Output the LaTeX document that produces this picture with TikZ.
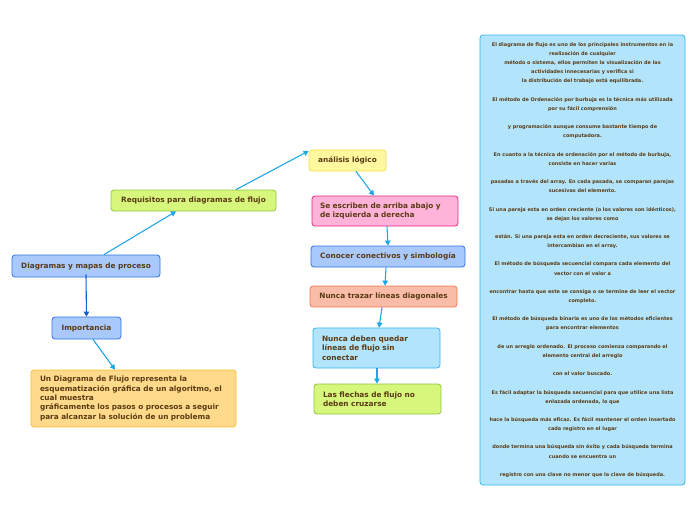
\documentclass[tikz,border=0pt]{standalone}
\usepackage{fontspec}
\setmainfont{DejaVu Sans}
\usetikzlibrary{arrows.meta}
\definecolor{txt}{HTML}{5A3A14}
\definecolor{grF}{HTML}{D6F67C}\definecolor{grD}{HTML}{8DC63F}
\definecolor{yeF}{HTML}{FFF89E}\definecolor{yeD}{HTML}{F2E54A}
\definecolor{piF}{HTML}{FFB3D9}\definecolor{piD}{HTML}{E8267A}
\definecolor{blF}{HTML}{A9C9FC}\definecolor{blD}{HTML}{2F74E0}
\definecolor{saF}{HTML}{F9BCA8}\definecolor{saD}{HTML}{F27A52}
\definecolor{skF}{HTML}{B2E5FB}\definecolor{skD}{HTML}{35B3EE}
\definecolor{orF}{HTML}{FFDA8A}\definecolor{orD}{HTML}{F7BD3A}
\definecolor{arr}{HTML}{1FA6E6}\definecolor{arrd}{HTML}{1060D8}
\begin{document}
\begin{tikzpicture}[x=1pt,y=-1pt,
  box/.style={rounded corners=3pt,line width=0.8pt,text=txt,
    font=\fontsize{7.35}{9.4}\selectfont\bfseries,inner sep=0pt},
  one/.style={box,align=center},
  multi/.style={box,align=left,inner xsep=#1},
  conn/.style={draw=arr,line width=1.1pt,-{Triangle[length=5pt,width=5.5pt]}},
  connd/.style={draw=arrd,line width=1.1pt,-{Triangle[length=5pt,width=5.5pt]}}]
\useasboundingbox (0,0) rectangle (696,520);
% nodes
\node[one,fill=grF,draw=grD,minimum width=165pt,minimum height=21pt] (req) at (193.5,200.5) {Requisitos para diagramas de flujo};
\node[one,fill=yeF,draw=yeD,minimum width=77pt,minimum height=21pt] (ana) at (347.5,160.5) {análisis lógico};
\node[multi=8pt,fill=piF,draw=piD,text width=130pt,minimum height=30pt] (se) at (385,211) {Se escriben de arriba abajo y\\de izquierda a derecha};
\node[one,fill=blF,draw=blD,minimum width=154pt,minimum height=21pt] (con) at (388,256.5) {Conocer conectivos y simbología};
\node[one,fill=saF,draw=saD,minimum width=147pt,minimum height=21pt] (nt) at (383.5,296.5) {Nunca trazar líneas diagonales};
\node[multi=9pt,fill=skF,draw=skD,text width=109pt,minimum height=40pt] (nd) at (376.5,348) {Nunca deben quedar\\líneas de flujo sin\\conectar};
\node[multi=9pt,fill=grF,draw=grD,text width=109pt,minimum height=30pt] (lf) at (377.5,399) {Las flechas de flujo no\\deben cruzarse};
\node[one,fill=blF,draw=blD,minimum width=148pt,minimum height=22pt] (dia) at (86,266) {Diagramas y mapas de proceso};
\node[one,fill=blF,draw=blD,minimum width=69pt,minimum height=22pt] (imp) at (86.5,328) {Importancia};
\node[multi=9pt,fill=orF,draw=orD,text width=187pt,minimum height=57pt] (un) at (133.5,398.5) {Un Diagrama de Flujo representa la\\esquematización gráfica de un algoritmo, el\\cual muestra\\gráficamente los pasos o procesos a seguir\\para alcanzar la solución de un problema};
\node[box,fill=skF,draw=skD,minimum width=205pt,minimum height=450pt] (rb) at (582.5,260) {};
\node[text=txt,font=\fontsize{4.95}{9.15}\selectfont\bfseries,align=center,inner sep=0pt] (rbt) at (582.5,260) {%
El diagrama de flujo es uno de los principales instrumentos en la\\
realización de cualquier\\
método o sistema, ellos permiten la visualización de las\\
actividades innecesarias y verifica si\\
la distribución del trabajo está equilibrada.\\[9.15pt]
El método de Ordenación por burbuja es la técnica más utilizada\\
por su fácil comprensión\\[9.15pt]
y programación aunque consume bastante tiempo de\\
computadora.\\[9.15pt]
En cuanto a la técnica de ordenación por el método de burbuja,\\
consiste en hacer varias\\[9.15pt]
pasadas a través del array. En cada pasada, se comparan parejas\\
sucesivas del elemento.\\[9.15pt]
Si una pareja esta en orden creciente (o los valores son idénticos),\\
se dejan los valores como\\[9.15pt]
están. Si una pareja esta en orden decreciente, sus valores se\\
intercambian en el array.\\[9.15pt]
El método de búsqueda secuencial compara cada elemento del\\
vector con el valor a\\[9.15pt]
encontrar hasta que este se consiga o se termine de leer el vector\\
completo.\\[9.15pt]
El método de búsqueda binaria es uno de los métodos eficientes\\
para encontrar elementos\\[9.15pt]
de un arreglo ordenado. El proceso comienza comparando el\\
elemento central del arreglo\\[9.15pt]
con el valor buscado.\\[9.15pt]
Es fácil adaptar la búsqueda secuencial para que utilice una lista\\
enlazada ordenada, lo que\\[9.15pt]
hace la búsqueda más eficaz. Es fácil mantener el orden insertado\\
cada registro en el lugar\\[9.15pt]
donde termina una búsqueda sin éxito y cada búsqueda termina\\
cuando se encuentra un\\[9.15pt]
registro con una clave no menor que la clave de búsqueda.};
% connectors
\draw[conn] ([xshift=18pt]dia.north) -- ([xshift=-17.5pt]req.south);
\draw[conn] ([xshift=42.5pt]req.north) -- ([yshift=9.5pt]ana.west);
\draw[conn] ([xshift=8.5pt]ana.south) -- ([xshift=-11pt]se.north);
\draw[conn] ([xshift=2pt]se.south) -- (con.north);
\draw[conn] ([xshift=-2pt]con.south) -- ([xshift=1.5pt]nt.north);
\draw[conn] ([xshift=-1.5pt]nt.south) -- ([xshift=2.5pt]nd.north);
\draw[conn] ([xshift=0.5pt]nd.south) -- ([xshift=-0.5pt]lf.north);
\draw[connd] ([yshift=3pt]dia.south) -- (imp.north);
\draw[conn] ([xshift=6.5pt]imp.south) -- ([xshift=-18.5pt]un.north);
\end{tikzpicture}
\end{document}
